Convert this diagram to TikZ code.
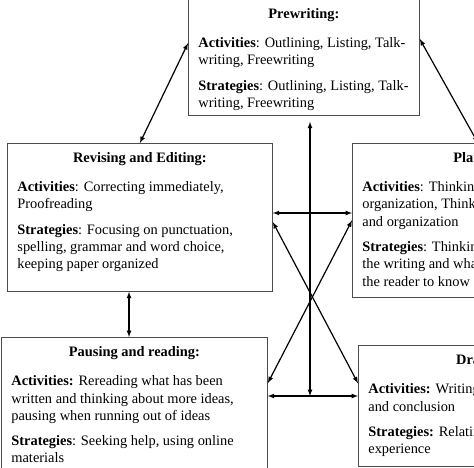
\documentclass[tikz,border=0pt]{standalone}
\usepackage{fontspec}
\setmainfont{Liberation Serif}
\usepackage{tikz}
\usetikzlibrary{positioning}

\begin{document}
\begin{tikzpicture}[x=1pt, y=-1pt, >=latex,
      stagebox/.style={draw=black!70, line width=0.8pt, anchor=north west,
                       inner xsep=10pt, inner ysep=9pt,
                       font=\fontsize{14.4}{17.3}\selectfont},
      link/.style={<->, line width=1.2pt}]
      \useasboundingbox (0, 0) rectangle (474, 467);
      \clip (0, 0) rectangle (474, 467);
      % the five stages
      \node [stagebox] (pre) at (188, -1) {\parbox[t][98pt][t]{211pt}{\centering\textbf{Prewriting:}\par\raggedright\vspace{12pt}
            \textbf{Activities}: Outlining, Listing, Talk-\\writing, Freewriting\par\vspace{8pt}
            \textbf{Strategies}: Outlining, Listing, Talk-\\writing, Freewriting}};
      \node [stagebox] (rev) at (7, 143) {\parbox[t][130pt][t]{245pt}{\centering\textbf{Revising and Editing:}\par\raggedright\vspace{12pt}
            \textbf{Activities}: Correcting immediately,\\Proofreading\par\vspace{8pt}
            \textbf{Strategies}: Focusing on punctuation,\\spelling, grammar and word choice,\\keeping paper organized}};
      \node [stagebox] (pla) at (352, 143) {\parbox[t][136pt][t]{242pt}{\centering\textbf{Planning:}\par\raggedright\vspace{12pt}
            \textbf{Activities}: Thinking\\organization, Thinking\\and organization\par\vspace{8pt}
            \textbf{Strategies}: Thinking\\the writing and what\\the reader to know}};
      \node [stagebox] (pau) at (1, 337) {\parbox[t][135pt][t]{246pt}{\centering\textbf{Pausing and reading:}\par\raggedright\vspace{12pt}
            \textbf{Activities:} Rereading what has been\\written and thinking about more ideas,\\pausing when running out of ideas\par\vspace{8pt}
            \textbf{Strategies}: Seeking help, using online\\materials}};
      \node [stagebox] (dra) at (358, 345) {\parbox[t][102.5pt][t]{233pt}{\centering\textbf{Drafting:}\par\raggedright\vspace{12pt}
            \textbf{Activities:} Writing\\and conclusion\par\vspace{8pt}
            \textbf{Strategies:} Relating\\experience}};
      \coordinate (hmid) at (310, 213);
      \coordinate (lmid) at (310, 396);
      % links
      \draw [link] (rev.north) -- (pre.173);
      \draw [link] (pre.9) -- (pla.94);
      \draw [link] (rev.east |- hmid) -- (pla.west |- hmid);
      \draw [link, shorten <=6pt] (pre.south -| lmid) -- (lmid);
      \draw [link] (pau.east |- lmid) -- (dra.west |- lmid);
      \draw [link] (rev.-2) -- (dra.170);
      \draw [link] (pla.west) -- (pau.13);
      \draw [link] (rev.south -| pau.94) -- (pau.94);
\end{tikzpicture}
\end{document}
